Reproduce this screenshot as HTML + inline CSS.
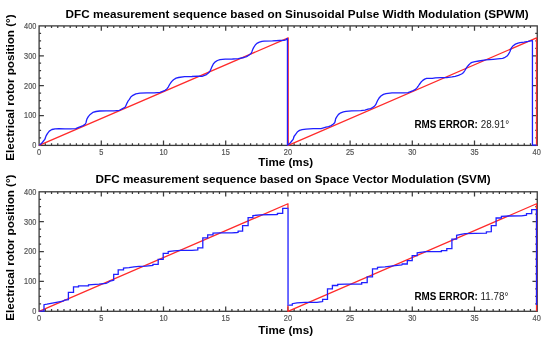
<!DOCTYPE html>
<html><head><meta charset="utf-8"><title>DFC measurement sequence</title>
<style>html,body{margin:0;padding:0;background:#fff;width:550px;height:342px;overflow:hidden}svg{display:block}</style>
</head><body>
<svg width="550" height="342" viewBox="0 0 550 342">
<style>.tk{font:8.3px "Liberation Sans",Arial,sans-serif;fill:#555555;stroke:#555555;stroke-width:0.2}.ttl{font:bold 11.73px "Liberation Sans",Arial,sans-serif;fill:#000}.lbl{font:bold 11.65px "Liberation Sans",Arial,sans-serif;fill:#000}.rms{font:bold 10.0px "Liberation Sans",Arial,sans-serif;fill:#000}.rmsv{font-weight:normal;fill:#222}</style>
<rect width="550" height="342" fill="#fff"/>
<path d="M45.32 145.4v-2.2M45.32 25.9v2.2M51.54 145.4v-2.2M51.54 25.9v2.2M57.76 145.4v-2.2M57.76 25.9v2.2M63.98 145.4v-2.2M63.98 25.9v2.2M70.2 145.4v-2.2M70.2 25.9v2.2M76.42 145.4v-2.2M76.42 25.9v2.2M82.64 145.4v-2.2M82.64 25.9v2.2M88.86 145.4v-2.2M88.86 25.9v2.2M95.08 145.4v-2.2M95.08 25.9v2.2M101.3 145.4v-4.8M101.3 25.9v4.8M107.52 145.4v-2.2M107.52 25.9v2.2M113.74 145.4v-2.2M113.74 25.9v2.2M119.96 145.4v-2.2M119.96 25.9v2.2M126.18 145.4v-2.2M126.18 25.9v2.2M132.4 145.4v-2.2M132.4 25.9v2.2M138.62 145.4v-2.2M138.62 25.9v2.2M144.84 145.4v-2.2M144.84 25.9v2.2M151.06 145.4v-2.2M151.06 25.9v2.2M157.28 145.4v-2.2M157.28 25.9v2.2M163.5 145.4v-4.8M163.5 25.9v4.8M169.72 145.4v-2.2M169.72 25.9v2.2M175.94 145.4v-2.2M175.94 25.9v2.2M182.16 145.4v-2.2M182.16 25.9v2.2M188.38 145.4v-2.2M188.38 25.9v2.2M194.6 145.4v-2.2M194.6 25.9v2.2M200.82 145.4v-2.2M200.82 25.9v2.2M207.04 145.4v-2.2M207.04 25.9v2.2M213.26 145.4v-2.2M213.26 25.9v2.2M219.48 145.4v-2.2M219.48 25.9v2.2M225.7 145.4v-4.8M225.7 25.9v4.8M231.92 145.4v-2.2M231.92 25.9v2.2M238.14 145.4v-2.2M238.14 25.9v2.2M244.36 145.4v-2.2M244.36 25.9v2.2M250.58 145.4v-2.2M250.58 25.9v2.2M256.8 145.4v-2.2M256.8 25.9v2.2M263.02 145.4v-2.2M263.02 25.9v2.2M269.24 145.4v-2.2M269.24 25.9v2.2M275.46 145.4v-2.2M275.46 25.9v2.2M281.68 145.4v-2.2M281.68 25.9v2.2M287.9 145.4v-4.8M287.9 25.9v4.8M294.12 145.4v-2.2M294.12 25.9v2.2M300.34 145.4v-2.2M300.34 25.9v2.2M306.56 145.4v-2.2M306.56 25.9v2.2M312.78 145.4v-2.2M312.78 25.9v2.2M319 145.4v-2.2M319 25.9v2.2M325.22 145.4v-2.2M325.22 25.9v2.2M331.44 145.4v-2.2M331.44 25.9v2.2M337.66 145.4v-2.2M337.66 25.9v2.2M343.88 145.4v-2.2M343.88 25.9v2.2M350.1 145.4v-4.8M350.1 25.9v4.8M356.32 145.4v-2.2M356.32 25.9v2.2M362.54 145.4v-2.2M362.54 25.9v2.2M368.76 145.4v-2.2M368.76 25.9v2.2M374.98 145.4v-2.2M374.98 25.9v2.2M381.2 145.4v-2.2M381.2 25.9v2.2M387.42 145.4v-2.2M387.42 25.9v2.2M393.64 145.4v-2.2M393.64 25.9v2.2M399.86 145.4v-2.2M399.86 25.9v2.2M406.08 145.4v-2.2M406.08 25.9v2.2M412.3 145.4v-4.8M412.3 25.9v4.8M418.52 145.4v-2.2M418.52 25.9v2.2M424.74 145.4v-2.2M424.74 25.9v2.2M430.96 145.4v-2.2M430.96 25.9v2.2M437.18 145.4v-2.2M437.18 25.9v2.2M443.4 145.4v-2.2M443.4 25.9v2.2M449.62 145.4v-2.2M449.62 25.9v2.2M455.84 145.4v-2.2M455.84 25.9v2.2M462.06 145.4v-2.2M462.06 25.9v2.2M468.28 145.4v-2.2M468.28 25.9v2.2M474.5 145.4v-4.8M474.5 25.9v4.8M480.72 145.4v-2.2M480.72 25.9v2.2M486.94 145.4v-2.2M486.94 25.9v2.2M493.16 145.4v-2.2M493.16 25.9v2.2M499.38 145.4v-2.2M499.38 25.9v2.2M505.6 145.4v-2.2M505.6 25.9v2.2M511.82 145.4v-2.2M511.82 25.9v2.2M518.04 145.4v-2.2M518.04 25.9v2.2M524.26 145.4v-2.2M524.26 25.9v2.2M530.48 145.4v-2.2M530.48 25.9v2.2M39.1 137.93h2M537.25 137.93h-2M39.1 130.46h2M537.25 130.46h-2M39.1 122.99h2M537.25 122.99h-2M39.1 115.53h4.8M537.25 115.53h-4.8M39.1 108.06h2M537.25 108.06h-2M39.1 100.59h2M537.25 100.59h-2M39.1 93.12h2M537.25 93.12h-2M39.1 85.65h4.8M537.25 85.65h-4.8M39.1 78.18h2M537.25 78.18h-2M39.1 70.71h2M537.25 70.71h-2M39.1 63.24h2M537.25 63.24h-2M39.1 55.78h4.8M537.25 55.78h-4.8M39.1 48.31h2M537.25 48.31h-2M39.1 40.84h2M537.25 40.84h-2M39.1 33.37h2M537.25 33.37h-2" stroke="#3c3c3c" stroke-width="1.25" fill="none"/>
<rect x="39.1" y="25.9" width="498.15" height="119.5" stroke="#3a3a3a" stroke-width="1.3" fill="none"/>
<text transform="translate(39.1 154.9) scale(0.89 1)" class="tk" text-anchor="middle">0</text>
<text transform="translate(101.3 154.9) scale(0.89 1)" class="tk" text-anchor="middle">5</text>
<text transform="translate(163.5 154.9) scale(0.89 1)" class="tk" text-anchor="middle">10</text>
<text transform="translate(225.7 154.9) scale(0.89 1)" class="tk" text-anchor="middle">15</text>
<text transform="translate(287.9 154.9) scale(0.89 1)" class="tk" text-anchor="middle">20</text>
<text transform="translate(350.1 154.9) scale(0.89 1)" class="tk" text-anchor="middle">25</text>
<text transform="translate(412.3 154.9) scale(0.89 1)" class="tk" text-anchor="middle">30</text>
<text transform="translate(474.5 154.9) scale(0.89 1)" class="tk" text-anchor="middle">35</text>
<text transform="translate(536.7 154.9) scale(0.89 1)" class="tk" text-anchor="middle">40</text>
<text transform="translate(36.4 148.25) scale(0.89 1)" class="tk" text-anchor="end">0</text>
<text transform="translate(36.4 118.38) scale(0.89 1)" class="tk" text-anchor="end">100</text>
<text transform="translate(36.4 88.5) scale(0.89 1)" class="tk" text-anchor="end">200</text>
<text transform="translate(36.4 58.63) scale(0.89 1)" class="tk" text-anchor="end">300</text>
<text transform="translate(36.4 28.75) scale(0.89 1)" class="tk" text-anchor="end">400</text>
<path d="M39.1 145.4L288.2 37.85V145.4L536.55 37.85V145.4" stroke="#ff2a2a" stroke-width="1.3" fill="none" stroke-linejoin="round"/>
<path d="M39.3 145.1 L39.6 144.9 L41.6 143.3 L43.5 141 L44.8 139.4 L45.4 137.8 L46.1 135.9 L47.4 133.6 L49.3 131.1 L51.9 129.5 L55.1 128.8 L59 128.6 L65 128.8 L70.6 128.9 L75.8 128.7 L78 127.6 L80.6 126.6 L83.1 125.6 L85.1 124.3 L86 122.7 L86.4 120.8 L87 118.9 L88.3 116.6 L90.2 114.4 L92.8 112.4 L96 111.5 L99.7 111 L106.3 110.9 L114.2 110.8 L119.5 110.3 L123.5 108.1 L125.3 107 L126.4 104.6 L127.3 102.6 L128.2 100.8 L129.4 99.4 L130.8 97 L132.9 95.3 L135.8 93.8 L140 93.2 L146.9 92.9 L154.2 92.9 L160 92.3 L162.6 91.3 L165.1 90.3 L167.1 88.7 L168.4 86.8 L169.6 84.5 L171.6 81.6 L173.5 79.7 L176.1 78.1 L178.6 77.5 L184.6 76.6 L191.9 76.5 L197.8 76.1 L202 76.3 L203.9 75.6 L206.5 74.6 L208.4 73 L210 71.1 L211 68.9 L212 66.6 L213.3 64 L214.9 62.1 L217.4 60.5 L220 59.7 L225.2 59.1 L232.5 59 L238.4 58.6 L244 57.5 L246.6 56.6 L249.1 55 L251.1 53.4 L252 51.4 L252.7 49.5 L253.6 47.6 L255.3 45 L256.9 43.4 L259.4 42.1 L262 41.3 L264 41.1 L272.5 40.9 L279.6 40.5 L284 40.3 L285.7 39.9 L287 38.7 L287.45 38.5 L287.45 145.2 L287.9 144.9 L289.9 143.3 L291.8 141 L293.1 139.4 L293.7 137.8 L294 136.5 L295.6 134.3 L297.6 131.7 L299.5 130.4 L302.1 129.7 L306 129.1 L313.2 128.7 L321.1 128.6 L326 127.2 L328.6 126.6 L331.1 125.6 L333.1 124.3 L334.7 122.7 L335.3 120.8 L335.6 118.9 L336.9 116.6 L338.5 114.4 L340.8 112.8 L343.4 111.8 L346 111.4 L351.6 110.9 L360.8 110.6 L365 110.1 L368 109.2 L370.6 108.6 L372.5 107.6 L374.4 106.3 L375.7 104.7 L376.7 102.5 L377.6 100.5 L378.9 98.3 L380.9 96 L383.4 94.4 L386 93.7 L388 93.3 L392 92.9 L398.8 92.8 L404 92.8 L408 92.6 L410.6 91.6 L413.1 90.6 L415.1 89.7 L416.7 88.1 L418 86.5 L419.3 84.5 L420.9 82.3 L422.8 80.4 L424.7 79.1 L426.6 78.4 L428 78.3 L432.4 78.4 L435.3 77.9 L440.8 77.7 L446.7 77.7 L452 76.9 L455.2 76.3 L458.4 75.3 L461.6 74 L463.6 72.4 L464.9 70.5 L465.8 68.9 L467.1 66.9 L468.7 65 L470.6 63.1 L472 62.4 L475 61.6 L478.9 61 L485.8 59.9 L493.2 59.3 L500 58.6 L502.6 58.3 L505.1 57.3 L507.1 56 L508.4 54.4 L509.3 52.8 L510 51.5 L510.6 49.6 L511.6 47.6 L513.2 45.7 L515.4 44.1 L518 43.1 L520 42.6 L524 42.1 L528.2 41.4 L531.9 40.6 L532.45 40.6 L532.45 145.2 L536.6 145.2" stroke="#1f1fff" stroke-width="1.3" fill="none" stroke-linejoin="round"/>
<path d="M45.32 311.3v-2.2M45.32 191.8v2.2M51.54 311.3v-2.2M51.54 191.8v2.2M57.76 311.3v-2.2M57.76 191.8v2.2M63.98 311.3v-2.2M63.98 191.8v2.2M70.2 311.3v-2.2M70.2 191.8v2.2M76.42 311.3v-2.2M76.42 191.8v2.2M82.64 311.3v-2.2M82.64 191.8v2.2M88.86 311.3v-2.2M88.86 191.8v2.2M95.08 311.3v-2.2M95.08 191.8v2.2M101.3 311.3v-4.8M101.3 191.8v4.8M107.52 311.3v-2.2M107.52 191.8v2.2M113.74 311.3v-2.2M113.74 191.8v2.2M119.96 311.3v-2.2M119.96 191.8v2.2M126.18 311.3v-2.2M126.18 191.8v2.2M132.4 311.3v-2.2M132.4 191.8v2.2M138.62 311.3v-2.2M138.62 191.8v2.2M144.84 311.3v-2.2M144.84 191.8v2.2M151.06 311.3v-2.2M151.06 191.8v2.2M157.28 311.3v-2.2M157.28 191.8v2.2M163.5 311.3v-4.8M163.5 191.8v4.8M169.72 311.3v-2.2M169.72 191.8v2.2M175.94 311.3v-2.2M175.94 191.8v2.2M182.16 311.3v-2.2M182.16 191.8v2.2M188.38 311.3v-2.2M188.38 191.8v2.2M194.6 311.3v-2.2M194.6 191.8v2.2M200.82 311.3v-2.2M200.82 191.8v2.2M207.04 311.3v-2.2M207.04 191.8v2.2M213.26 311.3v-2.2M213.26 191.8v2.2M219.48 311.3v-2.2M219.48 191.8v2.2M225.7 311.3v-4.8M225.7 191.8v4.8M231.92 311.3v-2.2M231.92 191.8v2.2M238.14 311.3v-2.2M238.14 191.8v2.2M244.36 311.3v-2.2M244.36 191.8v2.2M250.58 311.3v-2.2M250.58 191.8v2.2M256.8 311.3v-2.2M256.8 191.8v2.2M263.02 311.3v-2.2M263.02 191.8v2.2M269.24 311.3v-2.2M269.24 191.8v2.2M275.46 311.3v-2.2M275.46 191.8v2.2M281.68 311.3v-2.2M281.68 191.8v2.2M287.9 311.3v-4.8M287.9 191.8v4.8M294.12 311.3v-2.2M294.12 191.8v2.2M300.34 311.3v-2.2M300.34 191.8v2.2M306.56 311.3v-2.2M306.56 191.8v2.2M312.78 311.3v-2.2M312.78 191.8v2.2M319 311.3v-2.2M319 191.8v2.2M325.22 311.3v-2.2M325.22 191.8v2.2M331.44 311.3v-2.2M331.44 191.8v2.2M337.66 311.3v-2.2M337.66 191.8v2.2M343.88 311.3v-2.2M343.88 191.8v2.2M350.1 311.3v-4.8M350.1 191.8v4.8M356.32 311.3v-2.2M356.32 191.8v2.2M362.54 311.3v-2.2M362.54 191.8v2.2M368.76 311.3v-2.2M368.76 191.8v2.2M374.98 311.3v-2.2M374.98 191.8v2.2M381.2 311.3v-2.2M381.2 191.8v2.2M387.42 311.3v-2.2M387.42 191.8v2.2M393.64 311.3v-2.2M393.64 191.8v2.2M399.86 311.3v-2.2M399.86 191.8v2.2M406.08 311.3v-2.2M406.08 191.8v2.2M412.3 311.3v-4.8M412.3 191.8v4.8M418.52 311.3v-2.2M418.52 191.8v2.2M424.74 311.3v-2.2M424.74 191.8v2.2M430.96 311.3v-2.2M430.96 191.8v2.2M437.18 311.3v-2.2M437.18 191.8v2.2M443.4 311.3v-2.2M443.4 191.8v2.2M449.62 311.3v-2.2M449.62 191.8v2.2M455.84 311.3v-2.2M455.84 191.8v2.2M462.06 311.3v-2.2M462.06 191.8v2.2M468.28 311.3v-2.2M468.28 191.8v2.2M474.5 311.3v-4.8M474.5 191.8v4.8M480.72 311.3v-2.2M480.72 191.8v2.2M486.94 311.3v-2.2M486.94 191.8v2.2M493.16 311.3v-2.2M493.16 191.8v2.2M499.38 311.3v-2.2M499.38 191.8v2.2M505.6 311.3v-2.2M505.6 191.8v2.2M511.82 311.3v-2.2M511.82 191.8v2.2M518.04 311.3v-2.2M518.04 191.8v2.2M524.26 311.3v-2.2M524.26 191.8v2.2M530.48 311.3v-2.2M530.48 191.8v2.2M39.1 303.83h2M537.25 303.83h-2M39.1 296.36h2M537.25 296.36h-2M39.1 288.89h2M537.25 288.89h-2M39.1 281.43h4.8M537.25 281.43h-4.8M39.1 273.96h2M537.25 273.96h-2M39.1 266.49h2M537.25 266.49h-2M39.1 259.02h2M537.25 259.02h-2M39.1 251.55h4.8M537.25 251.55h-4.8M39.1 244.08h2M537.25 244.08h-2M39.1 236.61h2M537.25 236.61h-2M39.1 229.14h2M537.25 229.14h-2M39.1 221.68h4.8M537.25 221.68h-4.8M39.1 214.21h2M537.25 214.21h-2M39.1 206.74h2M537.25 206.74h-2M39.1 199.27h2M537.25 199.27h-2" stroke="#3c3c3c" stroke-width="1.25" fill="none"/>
<rect x="39.1" y="191.8" width="498.15" height="119.5" stroke="#3a3a3a" stroke-width="1.3" fill="none"/>
<text transform="translate(39.1 320.8) scale(0.89 1)" class="tk" text-anchor="middle">0</text>
<text transform="translate(101.3 320.8) scale(0.89 1)" class="tk" text-anchor="middle">5</text>
<text transform="translate(163.5 320.8) scale(0.89 1)" class="tk" text-anchor="middle">10</text>
<text transform="translate(225.7 320.8) scale(0.89 1)" class="tk" text-anchor="middle">15</text>
<text transform="translate(287.9 320.8) scale(0.89 1)" class="tk" text-anchor="middle">20</text>
<text transform="translate(350.1 320.8) scale(0.89 1)" class="tk" text-anchor="middle">25</text>
<text transform="translate(412.3 320.8) scale(0.89 1)" class="tk" text-anchor="middle">30</text>
<text transform="translate(474.5 320.8) scale(0.89 1)" class="tk" text-anchor="middle">35</text>
<text transform="translate(536.7 320.8) scale(0.89 1)" class="tk" text-anchor="middle">40</text>
<text transform="translate(36.4 314.15) scale(0.89 1)" class="tk" text-anchor="end">0</text>
<text transform="translate(36.4 284.28) scale(0.89 1)" class="tk" text-anchor="end">100</text>
<text transform="translate(36.4 254.4) scale(0.89 1)" class="tk" text-anchor="end">200</text>
<text transform="translate(36.4 224.53) scale(0.89 1)" class="tk" text-anchor="end">300</text>
<text transform="translate(36.4 194.65) scale(0.89 1)" class="tk" text-anchor="end">400</text>
<path d="M39.1 311.3L287.95 203.75V311.3L536.55 203.75V311.3" stroke="#ff2a2a" stroke-width="1.3" fill="none" stroke-linejoin="round"/>
<path d="M39.3 311.1H44V304.7L47 304.2L51 303.4L55 302.6L59 301.9L63 301.2L64.5 300.2L68.4 299.6V292.4H73.5V286.8H78.5V285.9H88.5V284.8L99 284.2L106 283.3L108 282.5L110 281.2L113.7 280.3V274.4H118.2V269.9H123.5V268.1L129 267.6L134 266.9L139 266.4L146 266.1L152.9 265.3V264.4H158.2V259.4H163.2V253.4H168.2V251.6L174 250.9L181 250.3L192 250.3L197.8 249.9V247.9H202.8V237.9H207.7V234.9H213V233.2L220 232.9L232 232.9L237 232.5L238.2 232.3V231.1H242.6V225.7H248.1V217.6H252.9V215.6L260 214.9L276.5 214.5L277.5 214.4V213.4H282.7V208.3H287.95V305.1H292.3V303.7L297 302.9L305 302.4L317 302.4L322 301.7L322.6 301.5V299.4H327.5V288.9H332.4V285.5H337.7V284.4L346 284.2L361.7 284.2V282.7H367.2V276.9H372.5V268.8H377.5V267.4L385 266.8L395 265.7L401.9 264.8L402.2 264.4V264H407.3V260.7H412.2V255.6H417.2V252.8L424 251.9L426 251.6L441.4 251.6V250.7H446.8V248.6H451.9V239.2H456.6V235.3L461 234.4L465 233.7L475 233.4L486.4 233.1V231.9L491.3 231.7V225.6H496.1V218H501.4V216.3L509 216L521.5 215.8L526.5 215.2V213.7H531.7V209.6H536.55V305.1" stroke="#1f1fff" stroke-width="1.3" fill="none" stroke-linejoin="miter"/>
<path d="M288.05 208.9V305.1" stroke="#fff" stroke-width="2.2" fill="none"/>
<path d="M288.05 208.9V305.1" stroke="#6464ff" stroke-width="1.9" fill="none"/>
<text x="65.6" y="18.3" class="ttl" textLength="463" lengthAdjust="spacing">DFC measurement sequence based on Sinusoidal Pulse Width Modulation (SPWM)</text>
<text x="95.6" y="183.0" class="ttl" textLength="395" lengthAdjust="spacing">DFC measurement sequence based on Space Vector Modulation (SVM)</text>
<text x="258.3" y="165.6" class="lbl">Time (ms)</text>
<text x="258.3" y="334.3" class="lbl">Time (ms)</text>
<text transform="translate(14.0 160.7) rotate(-90)" class="lbl">Electrical rotor position (°)</text>
<text transform="translate(14.0 320.8) rotate(-90)" class="lbl">Electrical rotor position (°)</text>
<text x="414.45" y="127.9" class="rms" textLength="94.8" lengthAdjust="spacingAndGlyphs">RMS ERROR: <tspan class="rmsv">28.91°</tspan></text>
<text x="414.45" y="299.9" class="rms" textLength="94.0" lengthAdjust="spacingAndGlyphs">RMS ERROR: <tspan class="rmsv">11.78°</tspan></text>
</svg>
</body></html>
